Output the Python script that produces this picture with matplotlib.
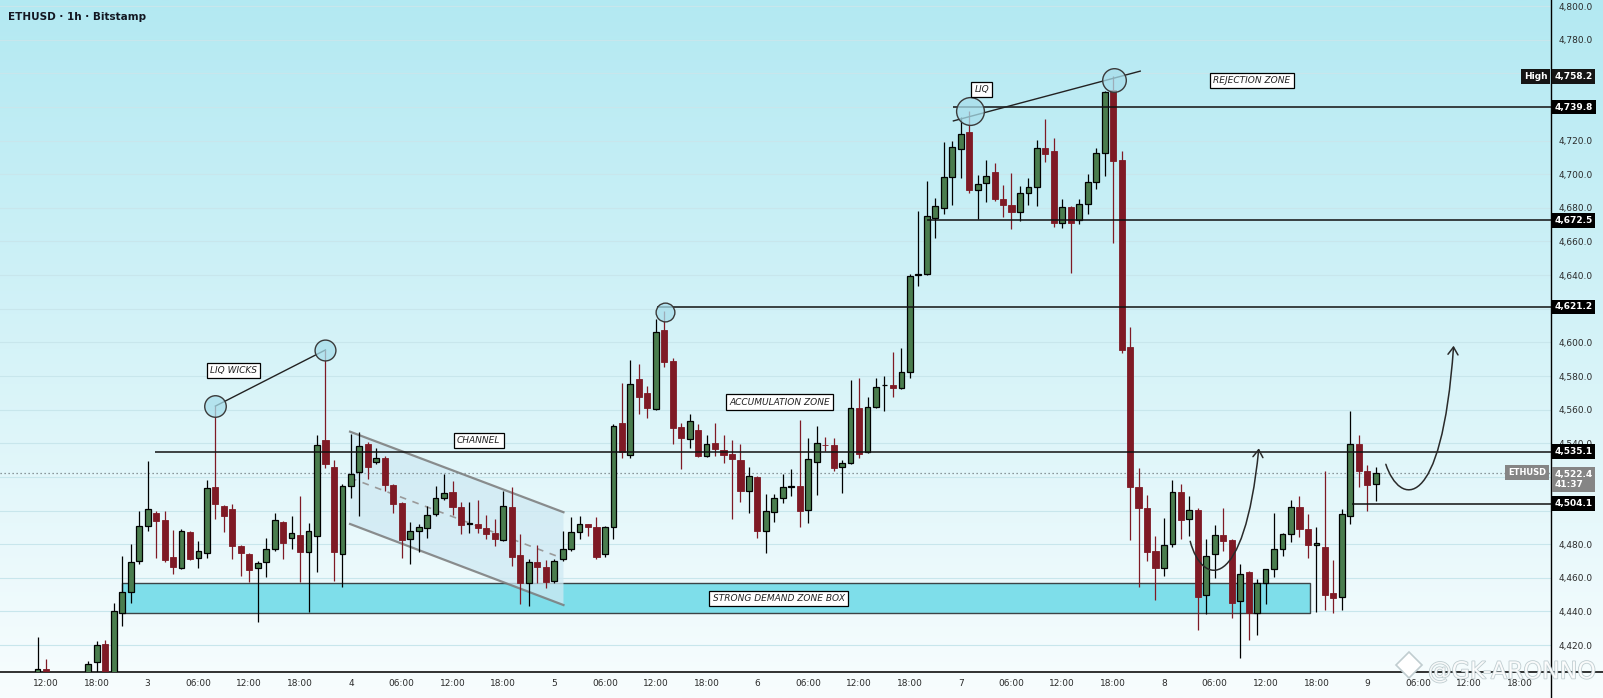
import matplotlib
matplotlib.use('Agg')
import matplotlib.pyplot as plt
import numpy as np
from matplotlib.path import Path
from matplotlib.patches import FancyArrowPatch, Rectangle, Polygon
from matplotlib import transforms
import matplotlib.patheffects as pe
from matplotlib.lines import Line2D

plt.rcParams['font.family'] = ['DejaVu Sans']

# ---------------- data (hour index: 0 = day 2, 12:00) ----------------
hours = [-1, 0] + list(range(5, 158))

opens = [
    4398, 4405.6, 4400, 4410, 4420.6, 4400, 4438.9, 4451.4, 4469.8, 4490.6,
    4498.6, 4494.2, 4472.2, 4465.7, 4487.3, 4471.6, 4474.8, 4513.8, 4502.7, 4500.9,
    4478.9, 4474.2, 4465.7, 4469.2, 4477, 4493.2, 4483.5, 4485.3, 4475.2, 4484.7,
    4541.9, 4525.9, 4474, 4514.6, 4522.7, 4539.4, 4528.7, 4531.1, 4515.2, 4504.5,
    4483.3, 4487.6, 4489.4, 4497.8, 4507.3, 4510.9, 4502, 4492.2, 4492, 4489.6,
    4486.8, 4482.5, 4502.1, 4473.6, 4456.8, 4469.2, 4466.4, 4457.9, 4471, 4477,
    4487, 4491.8, 4490, 4474, 4490, 4551.9, 4532.9, 4578.1, 4569.8, 4560.2,
    4607.2, 4589, 4549.5, 4542.3, 4547.7, 4532.6, 4540, 4536, 4533.6, 4530,
    4511.8, 4519.9, 4487.6, 4499, 4507.3, 4514, 4514.6, 4500.1, 4528.7, 4539.2,
    4539, 4525.7, 4528.1, 4560.8, 4534.6, 4561.7, 4574.5, 4574.7, 4573.1, 4582.2,
    4640.3, 4640.5, 4673.8, 4679.8, 4698.2, 4714.8, 4725.1, 4690.8, 4694.8, 4701.2,
    4685, 4681.7, 4677.7, 4688.7, 4692.3, 4715.4, 4713.8, 4671.2, 4680.4, 4672.5,
    4682.1, 4695.2, 4712.4, 4750, 4708.2, 4597.1, 4514.2, 4501.4, 4475.8, 4465.8,
    4480.2, 4511.2, 4495.2, 4500.5, 4450, 4474, 4485.4, 4482.4, 4446, 4463.3,
    4438.8, 4457.1, 4465, 4477.1, 4486.1, 4502.3, 4489.2, 4479.4, 4478.3, 4451.2,
    4448.8, 4496.6, 4539.6, 4523.7, 4515.6,
]
highs = [
    4425, 4411.6, 4410.6, 4422.5, 4423, 4445.2, 4473, 4480.1, 4499.9, 4529.5,
    4499.5, 4499.7, 4488.4, 4488.9, 4488, 4481.9, 4518.2, 4562.1, 4503.5, 4503.9,
    4479.5, 4475, 4470.2, 4483.5, 4498.7, 4494, 4496.8, 4508.7, 4492.8, 4545,
    4595.5, 4529.9, 4515.6, 4545.5, 4546.6, 4540.6, 4537, 4532.5, 4515.5, 4505,
    4493.2, 4491.8, 4502.7, 4514.6, 4522, 4517.4, 4505, 4504.9, 4506.3, 4497.4,
    4495.2, 4511.6, 4514.2, 4486, 4471, 4479.3, 4470.3, 4471.2, 4487.9, 4496.2,
    4496.8, 4492, 4496, 4491, 4551.5, 4575.7, 4589.5, 4587, 4573.9, 4613.8,
    4618.7, 4590.6, 4551.9, 4557.4, 4551.5, 4545, 4552.3, 4545, 4542, 4539.4,
    4525.8, 4520.5, 4509.7, 4509.9, 4521.6, 4524.6, 4553.8, 4543, 4550.3, 4544,
    4543, 4530, 4577.7, 4578.7, 4567.4, 4578.7, 4580, 4594.3, 4596.5, 4640.5,
    4678.2, 4696, 4685.9, 4719.2, 4719.8, 4734.2, 4737.6, 4699.6, 4708.5, 4706.5,
    4693.4, 4700.6, 4693.2, 4697.8, 4720.4, 4732.7, 4721.4, 4685, 4681, 4685,
    4700, 4715.4, 4749.5, 4758.2, 4714, 4609, 4525.5, 4509.1, 4485.1, 4495.4,
    4518.4, 4515.7, 4508.4, 4501.6, 4482.9, 4491.1, 4501.5, 4483, 4468, 4464,
    4459.4, 4465.5, 4498.3, 4486.6, 4506.3, 4508.7, 4498, 4490.4, 4523.7, 4470.6,
    4500.7, 4559.2, 4545, 4527.1, 4525.8,
]
lows = [
    4395, 4395, 4398, 4402, 4398, 4398, 4431.4, 4444.9, 4468, 4488,
    4471.8, 4469.5, 4462.1, 4465, 4470.5, 4466, 4472, 4495.2, 4487, 4471,
    4461.3, 4457.3, 4434, 4460.7, 4476, 4471, 4477.3, 4457.7, 4439.9, 4463.3,
    4525.3, 4458.3, 4454.7, 4507.3, 4496.9, 4518.6, 4527.7, 4511.6, 4498.4, 4472,
    4468, 4475.2, 4483.7, 4496.9, 4506.3, 4497.4, 4486, 4486.5, 4486.9, 4482.9,
    4479.1, 4481.9, 4467, 4444.6, 4443.4, 4456.8, 4453.7, 4457, 4470, 4476,
    4483.3, 4485, 4471, 4472.5, 4482.9, 4531, 4531.5, 4557.6, 4554.8, 4559.5,
    4585.6, 4539.8, 4524.6, 4537.4, 4531.7, 4532, 4532.6, 4528.5, 4494.8, 4505.3,
    4498.8, 4483.7, 4475, 4493, 4504.3, 4508.7, 4490.4, 4492.4, 4509, 4535.6,
    4523.5, 4510.6, 4527.5, 4531, 4534, 4561, 4559.4, 4567.4, 4572.1, 4579,
    4633.7, 4640, 4662.3, 4676.6, 4681.9, 4698, 4688.7, 4673.4, 4683.7, 4684,
    4674.4, 4667.3, 4672.2, 4681.9, 4681.3, 4707.5, 4668.5, 4667.9, 4641.5, 4670.4,
    4676.6, 4691, 4699.1, 4659, 4593.4, 4482.2, 4454.5, 4470, 4447, 4461.2,
    4478.2, 4482.8, 4485.1, 4429, 4438.2, 4460.1, 4476.1, 4436.2, 4412.5, 4422.8,
    4426.2, 4444.6, 4460.7, 4473.2, 4481.5, 4484.5, 4471.6, 4439.5, 4440.9, 4438.9,
    4440.9, 4491.8, 4514.2, 4499.9, 4505.9,
]
closes = [
    4406, 4398, 4408.6, 4419.9, 4400, 4440.5, 4451.4, 4469.2, 4490.6, 4500.7,
    4494, 4470.8, 4466.6, 4487.6, 4471.2, 4475.7, 4513.2, 4503.9, 4497, 4479.1,
    4475, 4464.8, 4468.7, 4477, 4494.2, 4480.9, 4486.5, 4475.6, 4487.9, 4538.8,
    4527.9, 4475.2, 4514.6, 4521.8, 4538.2, 4526.1, 4531.1, 4515.4, 4504.1, 4482.7,
    4487.6, 4490, 4497.2, 4507.3, 4510.3, 4502, 4491.6, 4492.6, 4489.8, 4486.2,
    4483, 4502.7, 4472.6, 4456.8, 4469.2, 4466.5, 4457.4, 4470, 4477, 4487,
    4491.8, 4490, 4472.2, 4490, 4550.2, 4534.7, 4575.1, 4567.7, 4561.1, 4606,
    4588.5, 4549.3, 4543.3, 4553, 4532.6, 4539.4, 4536.8, 4533.2, 4530.9, 4511.8,
    4520.3, 4488, 4499.8, 4507.3, 4513.9, 4514.2, 4499.9, 4530.4, 4540, 4538.9,
    4525.5, 4528.1, 4560.8, 4533.5, 4561.7, 4573.7, 4574.9, 4573.1, 4582.2, 4639.7,
    4640.7, 4675, 4681.3, 4698.2, 4716, 4723.8, 4690.8, 4694.3, 4699.1, 4685,
    4681.9, 4677.7, 4688.7, 4692.3, 4715.4, 4712.2, 4671.2, 4680.4, 4671.2, 4682.1,
    4695.2, 4712.4, 4748.7, 4708, 4595.4, 4513.7, 4501.4, 4475.3, 4465.8, 4479.6,
    4511.2, 4494.2, 4500.3, 4448.8, 4472.9, 4485.2, 4482, 4445.1, 4462.5, 4438.8,
    4457.1, 4465, 4477.4, 4486.2, 4502.3, 4488.9, 4479.4, 4480.5, 4449.7, 4448.2,
    4497.8, 4539.6, 4523.7, 4515.2, 4522.4,
]

x_tick_hours = list(range(0, 175, 6))
x_tick_labels = ['12:00', '18:00',
                 '3', '06:00', '12:00', '18:00',
                 '4', '06:00', '12:00', '18:00',
                 '5', '06:00', '12:00', '18:00',
                 '6', '06:00', '12:00', '18:00',
                 '7', '06:00', '12:00', '18:00',
                 '8', '06:00', '12:00', '18:00',
                 '9', '06:00', '12:00', '18:00']
y_ticks = list(range(4420, 4801, 20))

level_prices = [4739.8, 4672.5, 4621.2, 4535.1, 4504.1]
level_starts = [107.1, 104.0, 72.1, 12.9, 154.2]
last_price = closes[-1]
countdown = '41:37'

# ---------------- figure ----------------
W, H, DPI = 1603, 698, 100
fig = plt.figure(figsize=(W / DPI, H / DPI), dpi=DPI)

# gradient background
bg = fig.add_axes([0, 0, 1, 1], zorder=0)
top = np.array([179, 233, 242]) / 255.0
bot = np.array([248, 253, 254]) / 255.0
fr = np.linspace(0, 1, 256)[:, None]
grad = top[None, :] * (1 - fr) + bot[None, :] * fr
bg.imshow(grad[:, None, :], aspect='auto', extent=[0, 1, 0, 1], origin='upper')
bg.set_axis_off()

ax_right_px = 1551
ax_bottom_px = 672.3
ax = fig.add_axes([0, 1 - ax_bottom_px / H, ax_right_px / W, ax_bottom_px / H], zorder=1)
ax.set_facecolor('none')

XMIN, XMAX = -5.43, 177.7
YMIN, YMAX = 4403.8, 4803.6
ax.set_xlim(XMIN, XMAX)
ax.set_ylim(YMIN, YMAX)

# grid
for yv in y_ticks:
    ax.axhline(yv, color='#c8e6ec', lw=0.8, zorder=0.5)

# current price dotted line
ax.axhline(last_price, color='#6f7a7d', lw=0.9, ls=(0, (1, 2.2)), zorder=2)

# demand zone
ax.add_patch(Rectangle((9.0, 4438.9), 149.2 - 9.0, 4457.2 - 4438.9,
                       facecolor='#7edeea', edgecolor='#3c4446', lw=1.0, zorder=1.5))

# channel
ch_upper = [(35.9, 4546.9), (61.1, 4499.0)]
ch_lower = [(35.9, 4492.0), (61.1, 4443.8)]
ax.add_patch(Polygon([ch_upper[0], ch_upper[1], ch_lower[1], ch_lower[0]], closed=True,
                     facecolor='#cfe9f3', edgecolor='none', alpha=0.75, zorder=1.6))
for seg in (ch_upper, ch_lower):
    ax.plot([seg[0][0], seg[1][0]], [seg[0][1], seg[1][1]], color='#7a7a7a', lw=1.6, alpha=0.85, zorder=1.7)
ax.plot([35.9, 61.1], [(4546.9 + 4492.0) / 2, (4499.0 + 4443.8) / 2], color='#9a9a9a', lw=1.2,
        ls=(0, (4, 4)), zorder=1.7)

# candles
x = np.array(hours, float)
o = np.array(opens); h = np.array(highs); l = np.array(lows); c = np.array(closes)
up = c >= o
GREEN = '#4a7d4e'
RED = '#7f1a25'
ax.vlines(x[up], l[up], h[up], color='black', lw=0.9, zorder=3)
ax.vlines(x[~up], l[~up], h[~up], color=RED, lw=0.9, zorder=3)
blo = np.minimum(o, c)
bh = np.maximum(np.abs(c - o), 0.35)
ax.bar(x[up], bh[up], bottom=blo[up], width=0.68, color=GREEN, edgecolor='black', lw=0.9, zorder=3.5)
ax.bar(x[~up], bh[~up], bottom=blo[~up], width=0.72, color=RED, edgecolor=RED, lw=0.6, zorder=3.5)

# horizontal levels
for lp, ls_ in zip(level_prices, level_starts):
    ax.hlines(lp, ls_, XMAX, color='#111111', lw=1.1, zorder=4)

# liquidity lines and circles
ax.plot([20, 33], [4562.1, 4595.5], color='#222222', lw=1.0, zorder=5)
ax.plot([107.14, 129.2], [4731.7, 4761.3], color='#222222', lw=1.0, zorder=5)
circ_kw = dict(ls='none', marker='o', mfc=(0.66, 0.87, 0.92, 0.75), mec='#3a3a3a', mew=1.0, zorder=6)
ax.plot([20], [4562.1], ms=15.5, **circ_kw)
ax.plot([33], [4595.5], ms=15.0, **circ_kw)
ax.plot([73.1], [4618.0], ms=13.5, **circ_kw)
ax.plot([109.1], [4737.8], ms=20.0, **circ_kw)
ax.plot([126.1], [4755.8], ms=17.0, **circ_kw)

# text labels
box_kw = dict(boxstyle='square,pad=0.35', fc='white', ec='black', lw=0.9)
def label(t, p, s):
    ax.text(t, p, s, ha='center', va='center', fontsize=6.5, style='italic', color='#222222',
            bbox=box_kw, zorder=7)
label(22.1, 4583.3, 'LIQ WICKS')
label(51.1, 4541.8, 'CHANNEL')
label(86.6, 4564.5, 'ACCUMULATION ZONE')
label(110.5, 4750.4, 'LIQ')
label(142.4, 4755.6, 'REJECTION ZONE')
label(86.5, 4447.6, 'STRONG DEMAND ZONE BOX')

# projection arrows
def curve_arrow(pts):
    path = Path(pts, [Path.MOVETO, Path.CURVE4, Path.CURVE4, Path.CURVE4])
    arr = FancyArrowPatch(path=path, arrowstyle='->,head_length=0.45,head_width=0.3',
                          mutation_scale=12, color='#2a2a2a', lw=1.1, zorder=6)
    ax.add_patch(arr)
curve_arrow([(135.1, 4481.7), (136.5, 4455), (141.5, 4450), (143.2, 4537)])
curve_arrow([(158.2, 4527.5), (159.8, 4503), (164.8, 4497), (166.2, 4598)])

# axes styling
for s in ('left', 'top'):
    ax.spines[s].set_visible(False)
ax.spines['right'].set_color('black'); ax.spines['right'].set_linewidth(1.0)
ax.spines['bottom'].set_color('#222222'); ax.spines['bottom'].set_linewidth(1.3)
ax.yaxis.tick_right()
ax.set_yticks(y_ticks)
tag_prices = level_prices + [max(highs), last_price]
ax.set_yticklabels(['' if min(abs(v - tp) for tp in tag_prices) < 4.5 else f'{v:,.1f}'
                    for v in y_ticks])
ax.tick_params(axis='y', length=0, pad=5.8, labelsize=6.5, labelcolor='#2a2a2a')
ax.set_xticks(x_tick_hours)
ax.set_xticklabels(x_tick_labels)
ax.tick_params(axis='x', length=0, pad=5.0, labelsize=6.5, labelcolor='#2a2a2a')

# extension of axes lines
fig.add_artist(Line2D([ax_right_px / W, 1], [1 - ax_bottom_px / H] * 2, color='#222222', lw=1.3,
                      transform=fig.transFigure, zorder=3))
fig.add_artist(Line2D([ax_right_px / W] * 2, [0, 1 - ax_bottom_px / H], color='black', lw=1.0,
                      transform=fig.transFigure, zorder=3))

# right-axis price tags
tr = transforms.blended_transform_factory(fig.transFigure, ax.transData)
tag_x = 1554.5 / W
for lp in level_prices:
    ax.text(tag_x, lp, f'{lp:,.1f}', transform=tr, ha='left', va='center', fontsize=6.5,
            fontweight='bold', color='white', clip_on=False, zorder=10,
            bbox=dict(boxstyle='square,pad=0.3', fc='black', ec='none'))
hi = max(highs)
ax.text(tag_x, hi, f'{hi:,.1f}', transform=tr, ha='left', va='center', fontsize=6.5,
        fontweight='bold', color='white', clip_on=False, zorder=10,
        bbox=dict(boxstyle='square,pad=0.3', fc='#151515', ec='none'))
ax.text(1547.5 / W, hi, 'High', transform=tr, ha='right', va='center', fontsize=6.5,
        fontweight='bold', color='white', clip_on=False, zorder=10,
        bbox=dict(boxstyle='square,pad=0.3', fc='#151515', ec='none'))
ax.text(1546.5 / W, last_price, 'ETHUSD', transform=tr, ha='right', va='center', fontsize=6.0,
        fontweight='bold', color='white', clip_on=False, zorder=10,
        bbox=dict(boxstyle='square,pad=0.35', fc='#858585', ec='none'))
ax.text(tag_x, last_price - 3.9, f'{last_price:,.1f}\n{countdown}', transform=tr, ha='left',
        va='center', fontsize=6.5, fontweight='bold', color='white', linespacing=1.15,
        clip_on=False, zorder=10, bbox=dict(boxstyle='square,pad=0.3', fc='#858585', ec='none'))

# title
fig.text(8 / W, 1 - 16.7 / H, 'ETHUSD · 1h · Bitstamp', ha='left', va='center', fontsize=7.5,
         fontweight='bold', color='#131722')

# watermark
fig.text(1428 / W, 1 - 671.5 / H, '@GK-ARONNO', ha='left', va='center', fontsize=17,
         color='white', alpha=0.85, zorder=20,
         path_effects=[pe.withStroke(linewidth=1.1, foreground='#b3c3c7')])
fig.add_artist(Line2D([1409 / W], [1 - 665 / H], marker='D', ms=13, mfc='white', mec='#c0cdd0',
                      mew=1.2, transform=fig.transFigure, zorder=20))

fig.savefig('out.png', dpi=DPI)
